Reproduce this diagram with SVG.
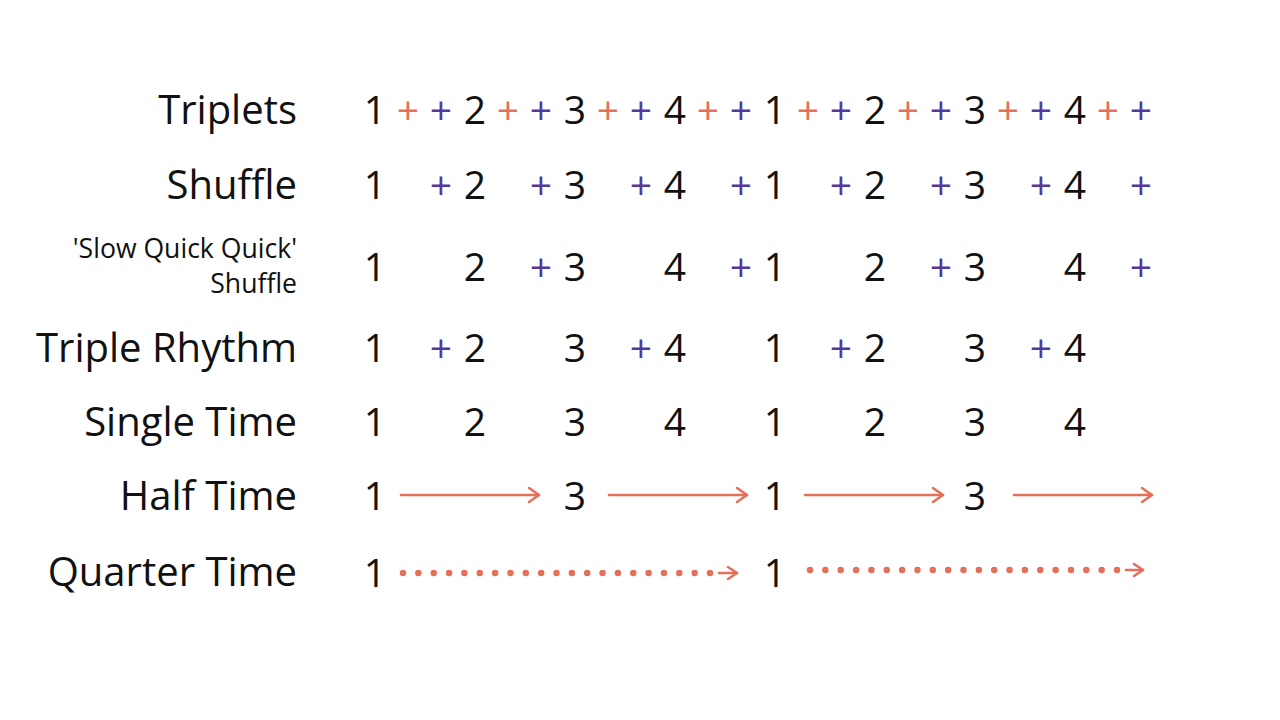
<svg xmlns="http://www.w3.org/2000/svg" width="1280" height="720" viewBox="0 0 1280 720">
<defs>
<style>
text{font-family:"Open Sans","Noto Sans","Liberation Sans",sans-serif;fill:#111;}
.lbl{font-size:40px;text-anchor:end;}
.sm{font-size:26.6px;text-anchor:end;}
.n{font-size:39px;text-anchor:middle;}
.o{fill:#E5705A;}
.p{fill:#55399A;}
.arr{stroke:#E5705A;stroke-width:2.6;fill:none;stroke-linecap:round;}
.dot{stroke:#E5705A;stroke-width:6.5;stroke-linecap:round;stroke-dasharray:0 15.35;fill:none;}
</style>
<marker id="head" markerUnits="userSpaceOnUse" viewBox="-12 -9 14 18" refX="0" refY="0" markerWidth="14" markerHeight="18" orient="auto" overflow="visible">
<path d="M-10,-7 L0,0 L-10,7" fill="none" stroke="#E5705A" stroke-width="2.6" stroke-linecap="round" stroke-linejoin="round"/>
</marker>
<marker id="headS" markerUnits="userSpaceOnUse" viewBox="-12 -9 14 18" refX="0" refY="0" markerWidth="14" markerHeight="18" orient="auto" overflow="visible">
<path d="M-9,-6 L0,0 L-9,6" fill="none" stroke="#E5705A" stroke-width="2.6" stroke-linecap="round" stroke-linejoin="round"/>
</marker>
</defs>
<rect width="1280" height="720" fill="#ffffff"/>

<g id="labels">
<text class="lbl" x="297" y="124">Triplets</text>
<text class="lbl" x="297" y="199">Shuffle</text>
<text class="sm" x="297" y="258">'Slow Quick Quick'</text>
<text class="sm" x="297" y="293">Shuffle</text>
<text class="lbl" x="297" y="362">Triple Rhythm</text>
<text class="lbl" x="297" y="436">Single Time</text>
<text class="lbl" x="297" y="510">Half Time</text>
<text class="lbl" x="297" y="586">Quarter Time</text>
</g>

<g id="row-triplets">
<text class="n" x="375" y="124">1</text><text class="n o" x="408" y="124">+</text><text class="n p" x="441" y="124">+</text>
<text class="n" x="475" y="124">2</text><text class="n o" x="508" y="124">+</text><text class="n p" x="541" y="124">+</text>
<text class="n" x="575" y="124">3</text><text class="n o" x="608" y="124">+</text><text class="n p" x="641" y="124">+</text>
<text class="n" x="675" y="124">4</text><text class="n o" x="708" y="124">+</text><text class="n p" x="741" y="124">+</text>
<text class="n" x="775" y="124">1</text><text class="n o" x="808" y="124">+</text><text class="n p" x="841" y="124">+</text>
<text class="n" x="875" y="124">2</text><text class="n o" x="908" y="124">+</text><text class="n p" x="941" y="124">+</text>
<text class="n" x="975" y="124">3</text><text class="n o" x="1008" y="124">+</text><text class="n p" x="1041" y="124">+</text>
<text class="n" x="1075" y="124">4</text><text class="n o" x="1108" y="124">+</text><text class="n p" x="1141" y="124">+</text>
</g>

<g id="row-shuffle">
<text class="n" x="375" y="199">1</text><text class="n p" x="441" y="199">+</text>
<text class="n" x="475" y="199">2</text><text class="n p" x="541" y="199">+</text>
<text class="n" x="575" y="199">3</text><text class="n p" x="641" y="199">+</text>
<text class="n" x="675" y="199">4</text><text class="n p" x="741" y="199">+</text>
<text class="n" x="775" y="199">1</text><text class="n p" x="841" y="199">+</text>
<text class="n" x="875" y="199">2</text><text class="n p" x="941" y="199">+</text>
<text class="n" x="975" y="199">3</text><text class="n p" x="1041" y="199">+</text>
<text class="n" x="1075" y="199">4</text><text class="n p" x="1141" y="199">+</text>
</g>

<g id="row-sqq">
<text class="n" x="375" y="281">1</text>
<text class="n" x="475" y="281">2</text><text class="n p" x="541" y="281">+</text>
<text class="n" x="575" y="281">3</text>
<text class="n" x="675" y="281">4</text><text class="n p" x="741" y="281">+</text>
<text class="n" x="775" y="281">1</text>
<text class="n" x="875" y="281">2</text><text class="n p" x="941" y="281">+</text>
<text class="n" x="975" y="281">3</text>
<text class="n" x="1075" y="281">4</text><text class="n p" x="1141" y="281">+</text>
</g>

<g id="row-triple-rhythm">
<text class="n" x="375" y="362">1</text><text class="n p" x="441" y="362">+</text>
<text class="n" x="475" y="362">2</text>
<text class="n" x="575" y="362">3</text><text class="n p" x="641" y="362">+</text>
<text class="n" x="675" y="362">4</text>
<text class="n" x="775" y="362">1</text><text class="n p" x="841" y="362">+</text>
<text class="n" x="875" y="362">2</text>
<text class="n" x="975" y="362">3</text><text class="n p" x="1041" y="362">+</text>
<text class="n" x="1075" y="362">4</text>
</g>

<g id="row-single">
<text class="n" x="375" y="436">1</text>
<text class="n" x="475" y="436">2</text>
<text class="n" x="575" y="436">3</text>
<text class="n" x="675" y="436">4</text>
<text class="n" x="775" y="436">1</text>
<text class="n" x="875" y="436">2</text>
<text class="n" x="975" y="436">3</text>
<text class="n" x="1075" y="436">4</text>
</g>

<g id="row-half">
<text class="n" x="375" y="510">1</text>
<text class="n" x="575" y="510">3</text>
<text class="n" x="775" y="510">1</text>
<text class="n" x="975" y="510">3</text>
</g>

<g id="row-quarter">
<text class="n" x="375" y="587">1</text>
<text class="n" x="775" y="587">1</text>
</g>

<g id="connectors">
<line class="arr" x1="401" y1="495" x2="539" y2="495" marker-end="url(#head)"/>
<line class="arr" x1="609" y1="495" x2="747" y2="495" marker-end="url(#head)"/>
<line class="arr" x1="805" y1="495" x2="943" y2="495" marker-end="url(#head)"/>
<line class="arr" x1="1014" y1="495" x2="1152" y2="495" marker-end="url(#head)"/>
<line class="dot" x1="403" y1="573" x2="711" y2="573"/>
<line class="arr" x1="719" y1="573" x2="737" y2="573" marker-end="url(#headS)"/>
<line class="dot" x1="810" y1="570" x2="1118" y2="570"/>
<line class="arr" x1="1126" y1="570" x2="1143" y2="570" marker-end="url(#headS)"/>
</g>
</svg>
